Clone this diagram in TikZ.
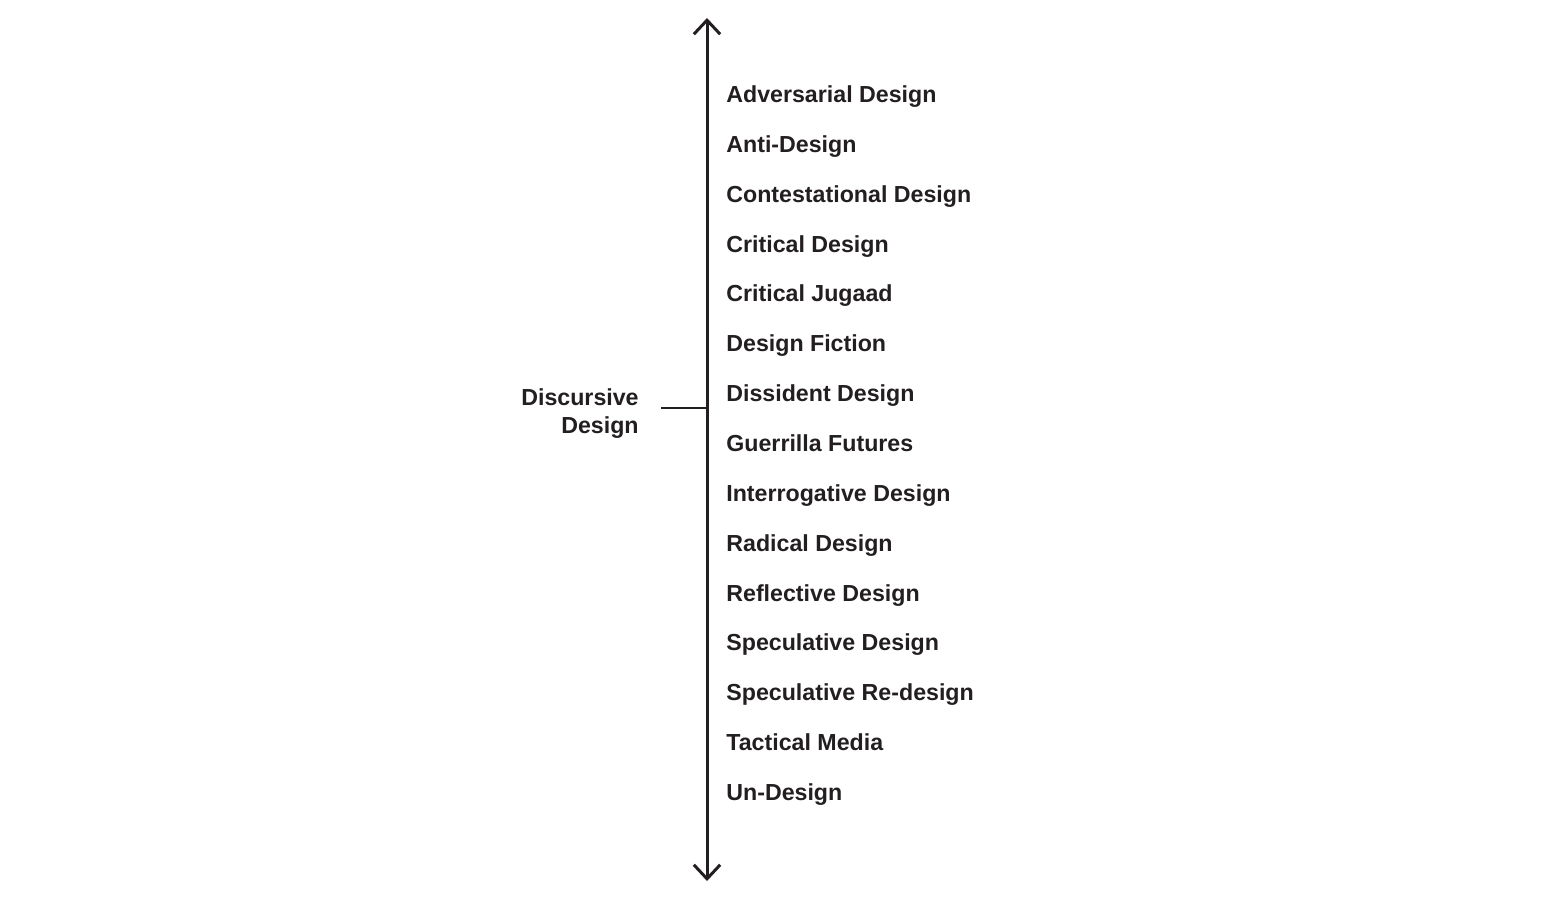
\documentclass[tikz,border=0pt]{standalone}
\usepackage{fontspec}
\setmainfont{Liberation Sans}
\usepackage{xcolor}
\usetikzlibrary{arrows.meta}

\definecolor{inkgrey}{HTML}{231F20}

\begin{document}
\begin{tikzpicture}[
    axis/.style={draw=inkgrey, line width=1.7pt, {Straight Barb[length=8pt,width=15pt]}-{Straight Barb[length=8pt,width=15pt]}},
    tick/.style={draw=inkgrey, line width=1.4pt},
    term/.style={text=inkgrey, font=\fontsize{13.2pt}{15.9pt}\selectfont\bfseries, inner sep=0pt, anchor=base west}
]
    \useasboundingbox (0,0) rectangle (30.86,18);
    % axis with both ends open
    \coordinate (top) at (14.14,17.64);
    \coordinate (bottom) at (14.14,0.38);
    \draw[axis] (bottom) -- (top);
    % label on the left
    \node[term, anchor=base east, align=right] (discursive) at (12.78,9.33) {Discursive\\Design};
    \coordinate (tickstart) at (13.22,9.84);
    \coordinate (tickend) at (14.14,9.84);
    \draw[tick] (tickstart) -- (tickend);
    % list of practices
    \foreach \name [count=\i from 0] in {Adversarial Design, Anti-Design, Contestational Design, Critical Design, Critical Jugaad, Design Fiction, Dissident Design, Guerrilla Futures, Interrogative Design, Radical Design, Reflective Design, Speculative Design, Speculative Re-design, Tactical Media, Un-Design}
        \node[term] (d\i) at (14.52,15.95-\i*0.997) {\name};
\end{tikzpicture}
\end{document}
